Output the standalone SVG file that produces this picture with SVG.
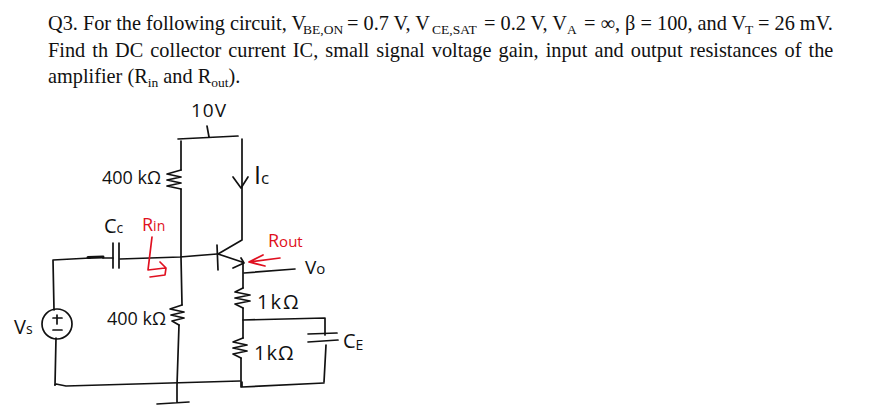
<svg xmlns="http://www.w3.org/2000/svg" width="873" height="405" viewBox="0 0 873 405">
<style>
.q{font-family:"Liberation Serif",serif;font-size:20.300px;fill:#111}
.s{font-size:13.500px}
.h{font-family:"Open Sans","Liberation Sans",sans-serif;font-weight:400;fill:#111}
.b{font-size:14px}
.r{fill:#e01020}
path{fill:none;stroke:#111;stroke-width:1.7;stroke-linecap:round;stroke-linejoin:round}
.rd{stroke:#e01020}
</style>
<rect width="873" height="405" fill="#fff"/>
<g id="question">
<text class="q" y="30"><tspan x="48">Q3. For the following circuit, V</tspan><tspan class="s" x="303" dy="3.500">BE,ON</tspan><tspan x="347" dy="-3.500">= 0.7 V, V</tspan><tspan class="s" x="432" dy="3.500">CE,SAT</tspan><tspan x="484" dy="-3.500">= 0.2 V, V</tspan><tspan class="s" x="567" dy="3.500">A</tspan><tspan x="584" dy="-3.500">= ∞, β = 100, and V</tspan><tspan class="s" x="745" dy="3.500">T</tspan><tspan x="758" dy="-3.500">= 26 mV.</tspan></text>
<text class="q" x="48" y="57" word-spacing="2">Find th DC collector current IC, small signal voltage gain, input and output resistances of the</text>
<text class="q" x="48" y="83">amplifier (R<tspan class="s" dy="3.500">in</tspan><tspan dy="-3.500"> and R</tspan><tspan class="s" dy="3.500">out</tspan><tspan dy="-3.500">).</tspan></text>
</g>
<g id="connectors">
<path d="M178 139L238 136M207 126L209 137"/>
<path d="M181 141V170M181 189V257L182 305M179 325L177 385V402M157 404L189 402"/>
<path d="M55 385L56 384L66 386L240 381M242 387L324 383M242 382V387"/>
<path d="M53 260L54 310M56 338L55 385M53 260L90 258"/>
<path d="M88 257.500L103 257" style="stroke-width:3"/>
<path d="M103 258H113M120 259L180 257L217 254"/>
<path d="M242 139V240L218 254L242 262L243 264V288M243 308V338M241 358V387"/>
<path d="M244 273L295 269M243 320L325 318V335M326 345L324 382"/>
</g>
<g id="supply"><text class="h" x="191" y="117" font-size="19" letter-spacing="1">10V</text></g>
<g id="r1">
<path d="M181 170L167 174L181 177L167 180L181 183L167 186L181 189"/>
<text class="h" x="102" y="184" font-size="18">400 kΩ</text>
</g>
<g id="r2">
<path d="M182 305L170 309L184 312L171 315L184 318L172 321L179 325"/>
<text class="h" x="107" y="325" font-size="18">400 kΩ</text>
</g>
<g id="cc">
<path d="M113 243V268M119 243V268"/>
<text class="h" x="104" y="233" font-size="20">C<tspan class="b">c</tspan></text>
</g>
<g id="source">
<circle cx="57" cy="324" r="15" fill="none" stroke="#111" stroke-width="1.700"/>
<path d="M57 315V324M53 318H62M53 330H62"/>
<text class="h" x="14" y="334" font-size="20">V<tspan class="b">s</tspan></text>
</g>
<g id="transistor">
<path d="M217 245L218 270M233 268L244 263L241 258"/>
</g>
<g id="ic">
<path d="M233 177L241 188L248 177"/>
<text class="h" x="254" y="184" font-size="25" font-family="Liberation Serif">I<tspan font-size="17">c</tspan></text>
</g>
<g id="rin">
<path class="rd" d="M152 237L148 270L165 268M160 262L166 268L165 275L150 277"/>
<text class="h r" x="142" y="231" font-size="18">R<tspan class="b">in</tspan></text>
</g>
<g id="rout">
<path class="rd" d="M280 258L249 262M263 255L249 262L265 266"/>
<text class="h r" x="268" y="247" font-size="18">R<tspan font-size="15">out</tspan></text>
</g>
<g id="vo"><text class="h" x="305" y="274" font-size="19">V<tspan font-size="15">o</tspan></text></g>
<g id="re1">
<path d="M243 288L235 292L250 295L235 298L250 301L235 304L243 308"/>
<text class="h" x="257" y="309" font-size="20" letter-spacing="2">1kΩ</text>
</g>
<g id="re2">
<path d="M243 338L233 342L247 345L233 348L247 351L233 354L241 358"/>
<text class="h" x="254" y="360" font-size="20" letter-spacing="1">1kΩ</text>
</g>
<g id="ce">
<path d="M308 334L337 333M308 342L338 340"/>
<text class="h" x="343" y="348" font-size="20">C<tspan class="b" dy="2">E</tspan></text>
</g>
</svg>
